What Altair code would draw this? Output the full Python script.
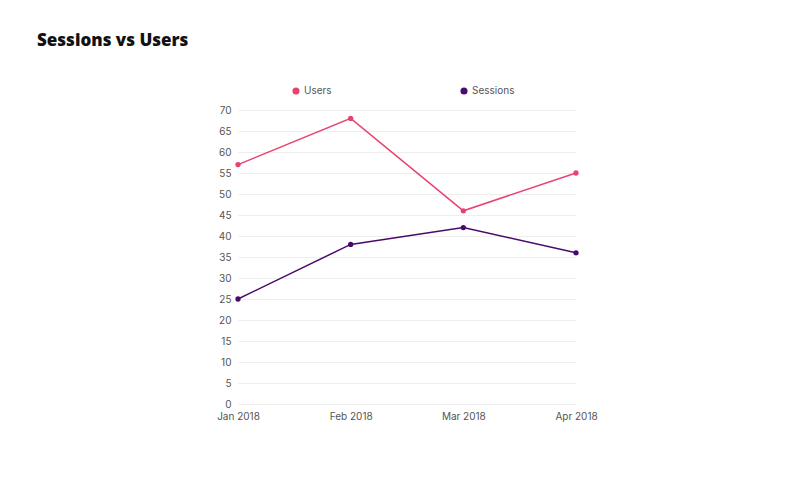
import altair as alt
import pandas as pd

months = ["Jan 2018", "Feb 2018", "Mar 2018", "Apr 2018"]
users = [57, 68, 46, 55]
sessions = [25, 38, 42, 36]
series = ["Users", "Sessions"]
colors = ["#e8436e", "#4a0a6b"]

rows = []
for m, u, s in zip(months, users, sessions):
    rows.append({"month": m, "series": "Users", "value": u})
    rows.append({"month": m, "series": "Sessions", "value": s})
df = pd.DataFrame(rows)

color = alt.Color(
    "series:N",
    scale=alt.Scale(domain=series, range=colors),
    sort=series,
    legend=alt.Legend(
        title=None, orient="none", direction="horizontal",
        legendX=53, legendY=-24, symbolType="circle", symbolSize=50,
        symbolStrokeWidth=0, labelFontSize=10, labelColor="#555555",
        labelFont="Inter", columnPadding=127, labelOffset=3,
    ),
)

x = alt.X(
    "month:N", sort=months, title=None,
    scale=alt.Scale(type="point", padding=0),
    axis=alt.Axis(labelAngle=0, ticks=False, domain=False, grid=False,
                  labelPadding=7, labelFontSize=10, labelColor="#555555",
                  labelFont="Inter"),
)
y = alt.Y(
    "value:Q", title=None,
    scale=alt.Scale(domain=[0, 70], nice=False),
    axis=alt.Axis(values=list(range(0, 75, 5)), ticks=False, domain=False,
                  gridColor="#eeeeee", labelPadding=7, labelFontSize=10,
                  labelColor="#555555", labelFont="Inter"),
)

base = alt.Chart(df).encode(x=x, y=y, color=color, detail="series:N")
lines = base.mark_line(strokeWidth=1.5)
points = base.mark_point(filled=True, size=28, opacity=1)

chart = (lines + points).properties(
    width=338, height=294,
    title=alt.TitleParams(
        "Sessions vs Users", anchor="start", frame="group", dx=-201, dy=-32,
        font="Open Sans", fontWeight=800, fontSize=17, color="#111111",
    ),
    autosize=alt.AutoSizeParams(type="none"),
    padding={"left": 230, "top": 102, "right": 200, "bottom": 80},
).configure_view(stroke=None)

chart.save("out.html", embed_options={"renderer": "svg", "actions": False})
